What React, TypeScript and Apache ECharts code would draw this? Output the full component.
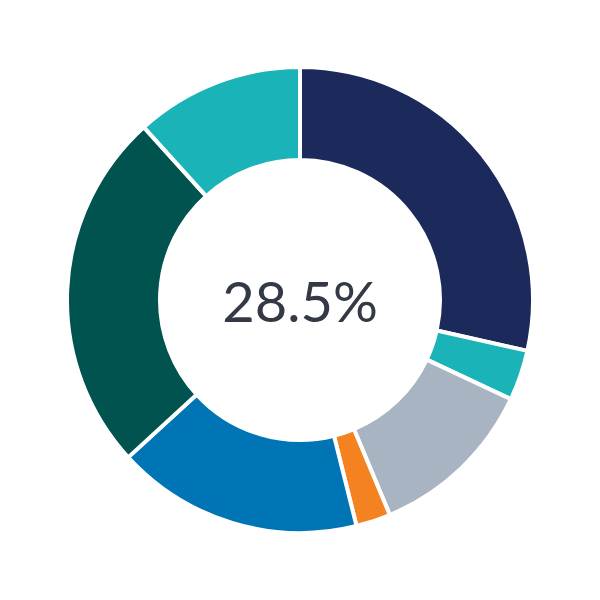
import React, { useEffect, useRef } from "react";
import * as echarts from "echarts";

const categories = ["A", "B", "C", "D", "E", "F", "G"];
const values = [28.5, 3.5, 11.7, 2.4, 17.1, 25.1, 11.7];
const colors = ["#1b2a5a", "#1ab3b8", "#a9b4c2", "#f58220", "#0075b6", "#00534f", "#1ab3b8"];
const centerLabel = "28.5%";

export default function App() {
  const ref = useRef<HTMLDivElement>(null);
  useEffect(() => {
    const chart = echarts.init(ref.current!, null, { renderer: "svg" });
    chart.setOption({
      animation: false,
      title: {
        text: centerLabel,
        left: "center",
        top: "center",
        textStyle: {
          fontFamily: "Lato",
          fontSize: 56,
          fontWeight: "normal",
          color: "#333a46",
        },
      },
      series: [
        {
          type: "pie",
          center: [300, 300],
          radius: [140, 233],
          startAngle: 90,
          clockwise: true,
          label: { show: false },
          labelLine: { show: false },
          itemStyle: { borderColor: "#ffffff", borderWidth: 4 },
          data: categories.map((c, i) => ({
            name: c,
            value: values[i],
            itemStyle: { color: colors[i] },
          })),
        },
      ],
    });
    return () => chart.dispose();
  }, []);
  return <div ref={ref} style={{ width: 600, height: 600, position: "absolute", left: 0, top: 0 }} />;
}
